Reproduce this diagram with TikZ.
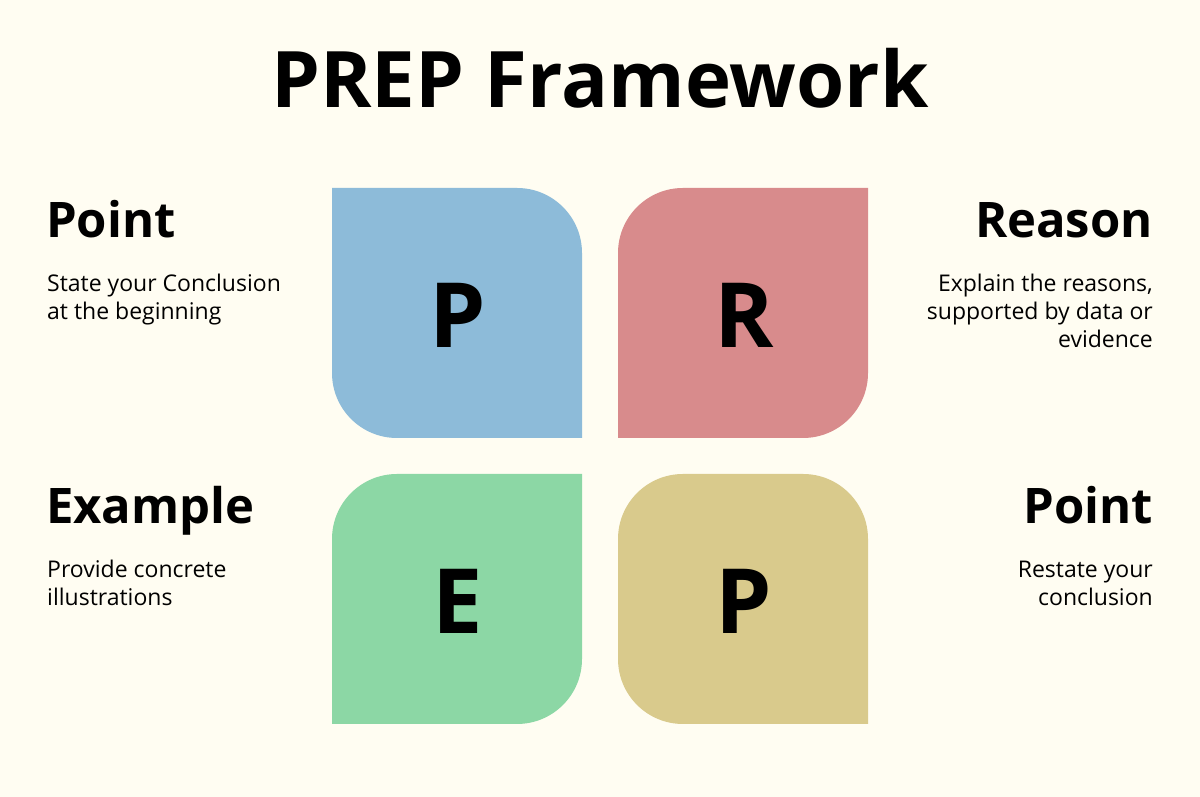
\documentclass[tikz,border=0pt]{standalone}
\usepackage{fontspec}
\setmainfont{Open Sans}
\definecolor{bg}{HTML}{FFFDF2}
\definecolor{cblue}{HTML}{8DBBD9}
\definecolor{cred}{HTML}{D88B8C}
\definecolor{cgreen}{HTML}{8CD7A5}
\definecolor{cyel}{HTML}{D9CA8C}
\begin{document}
\begin{tikzpicture}[x=1pt,y=1pt,
  head/.style={inner sep=0pt,font=\fontsize{49}{50}\selectfont\bfseries},
  body/.style={inner sep=0pt,font=\fontsize{23}{28}\selectfont,align=left},
  bodyr/.style={inner sep=0pt,font=\fontsize{23}{28}\selectfont,align=right},
  letter/.style={inner sep=0pt,font=\fontsize{90}{90}\selectfont\bfseries}]
\fill[bg] (0,0) rectangle (1200,797);
\useasboundingbox (0,0) rectangle (1200,797);
\node[inner sep=0pt,font=\fontsize{78}{80}\selectfont\bfseries,anchor=base] (title) at (600,689) {PREP Framework};
% boxes
\fill[cblue] (332,609) -- (517,609) arc[start angle=90,end angle=0,radius=65] -- (582,359) -- (397,359) arc[start angle=270,end angle=180,radius=65] -- cycle;
\fill[cred] (868,609) -- (868,424) arc[start angle=0,end angle=-90,radius=65] -- (618,359) -- (618,544) arc[start angle=180,end angle=90,radius=65] -- cycle;
\fill[cgreen] (582,323) -- (582,138) arc[start angle=0,end angle=-90,radius=65] -- (332,73) -- (332,258) arc[start angle=180,end angle=90,radius=65] -- cycle;
\fill[cyel] (868,73) -- (868,258) arc[start angle=0,end angle=90,radius=65] -- (683,323) arc[start angle=90,end angle=180,radius=65] -- (618,138) arc[start angle=180,end angle=270,radius=65] -- cycle;
\node[letter,anchor=base] (lp) at (458,449) {P};
\node[letter,anchor=base] (lr) at (744,449) {R};
\node[letter,anchor=base] (le) at (458,163) {E};
\node[letter,anchor=base] (lp2) at (744,163) {P};
% texts
\node[head,anchor=base west] (h1) at (46,559) {Point};
\node[body,anchor=base west] (b1) at (47,477) {State your Conclusion\\at the beginning};
\node[head,anchor=base east] (h2) at (1153,559) {Reason};
\node[bodyr,anchor=base east] (b2) at (1153,449) {Explain the reasons,\\supported by data or\\evidence};
\node[head,anchor=base west] (h3) at (46,273) {Example};
\node[body,anchor=base west] (b3) at (47,191) {Provide concrete\\illustrations};
\node[head,anchor=base east] (h4) at (1153,273) {Point};
\node[bodyr,anchor=base east] (b4) at (1153,191) {Restate your\\conclusion};
\end{tikzpicture}
\end{document}
